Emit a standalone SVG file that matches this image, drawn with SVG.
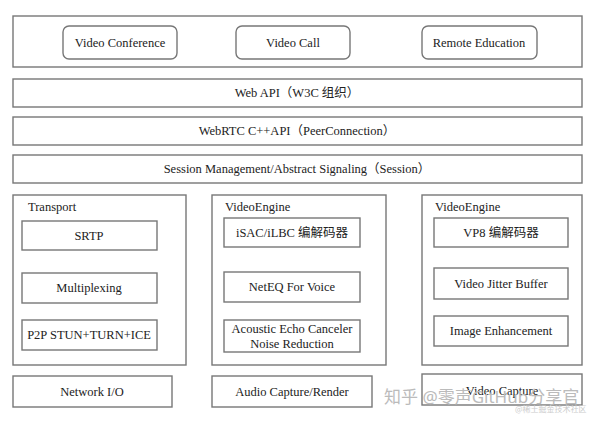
<svg xmlns="http://www.w3.org/2000/svg" width="600" height="424" viewBox="0 0 600 424">
<style>
rect{fill:#fff;stroke:#777;stroke-width:1.4}
text{font-family:"Liberation Serif","Noto Sans CJK SC",serif;font-size:12.5px;fill:#222;text-anchor:middle}
.l{text-anchor:start}
.wm{font-family:"Noto Sans","Noto Sans CJK SC",sans-serif;fill:#bbb;font-size:17px;text-anchor:start}
.wm2{font-family:"Noto Sans CJK SC",sans-serif;fill:#ccc;font-size:8px;text-anchor:start}
</style>
<rect width="600" height="424" style="stroke:none"/>
<g id="apps">
<rect x="13" y="16" width="569" height="51"/>
<rect x="63" y="26" width="114" height="33" rx="6"/><text x="120" y="47">Video Conference</text>
<rect x="236" y="26" width="114" height="33" rx="6"/><text x="293" y="47">Video Call</text>
<rect x="422" y="26" width="115" height="33" rx="6"/><text x="479" y="47">Remote Education</text>
</g>
<g id="webapi"><rect x="13" y="79" width="569" height="28"/><text x="297" y="97">Web API（W3C 组织）</text></g>
<g id="webrtc"><rect x="13" y="117" width="569" height="28"/><text x="297" y="135">WebRTC C++API（PeerConnection）</text></g>
<g id="session"><rect x="13" y="155" width="569" height="28"/><text x="297" y="173">Session Management/Abstract Signaling（Session）</text></g>
<g id="transport">
<rect x="13" y="195" width="173" height="170"/><text class="l" x="28" y="211">Transport</text>
<rect x="22" y="221" width="135" height="29"/><text x="89" y="240">SRTP</text>
<rect x="22" y="273" width="135" height="30"/><text x="89" y="292">Multiplexing</text>
<rect x="22" y="320" width="135" height="30"/><text x="89" y="339">P2P STUN+TURN+ICE</text>
</g>
<g id="voice">
<rect x="212" y="195" width="174" height="170"/><text class="l" x="225" y="211">VideoEngine</text>
<rect x="224" y="218" width="136" height="29"/><text x="292" y="237">iSAC/iLBC 编解码器</text>
<rect x="224" y="272" width="136" height="30"/><text x="292" y="291">NetEQ For Voice</text>
<rect x="224" y="320" width="136" height="32"/><text x="292" y="333">Acoustic Echo Canceler</text><text x="292" y="348">Noise Reduction</text>
</g>
<g id="video">
<rect x="422" y="195" width="160" height="170"/><text class="l" x="435" y="211">VideoEngine</text>
<rect x="434" y="218" width="134" height="29"/><text x="501" y="237">VP8 编解码器</text>
<rect x="434" y="268" width="134" height="31"/><text x="501" y="288">Video Jitter Buffer</text>
<rect x="434" y="316" width="134" height="30"/><text x="501" y="335">Image Enhancement</text>
</g>
<g id="netio"><rect x="13" y="376" width="159" height="31"/><text x="92" y="396">Network I/O</text></g>
<g id="audio"><rect x="212" y="376" width="160" height="31"/><text x="292" y="396">Audio Capture/Render</text></g>
<g id="capture"><rect x="422" y="374" width="160" height="31"/><text x="502" y="395">Video Capture</text></g>
<g id="connectors"/>
<text class="wm" x="384" y="403">知乎 @零声GitHub分享官</text>
<text class="wm2" x="515" y="412">@稀土掘金技术社区</text>
</svg>
